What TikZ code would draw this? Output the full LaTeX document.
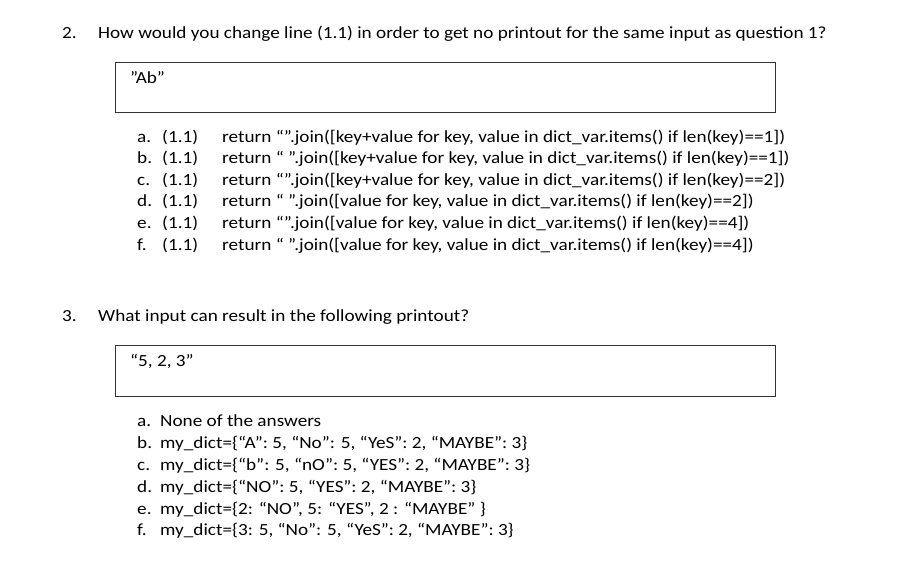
\documentclass[tikz,border=0pt]{standalone}
\usepackage{fontspec}
\setmainfont{Carlito}
\newcommand{\widen}[1]{\scalebox{1.13}[1]{#1}}
\begin{document}
\begin{tikzpicture}[x=1pt,y=-1pt,
  t/.style={anchor=base west,inner sep=0,font=\fontsize{17}{20}\selectfont},
  ansbox/.style={draw=black!80,line width=0.8pt}]
\useasboundingbox[fill=white] (0,0) rectangle (906,581);
\node[t] (q2n) at (62,38) {\widen{2.}};
\node[t] (q2) at (98,38) {\widen{How would you change line (1.1) in order to get no printout for the same input as question 1?}};
\draw[ansbox] (115,62) rectangle (775,112);
\node[t] (ab) at (130,83) {\widen{”Ab”}};
\foreach \l/\y/\s in {
 a./142/{return “”.join([key+value for key, value in dict\_var.items() if len(key)==1])},
 b./163/{return “ ”.join([key+value for key, value in dict\_var.items() if len(key)==1])},
 c./185/{return “”.join([key+value for key, value in dict\_var.items() if len(key)==2])},
 d./206/{return “ ”.join([value for key, value in dict\_var.items() if len(key)==2])},
 e./228/{return “”.join([value for key, value in dict\_var.items() if len(key)==4])},
 f./250/{return “ ”.join([value for key, value in dict\_var.items() if len(key)==4])}}{
 \node[t] at (137,\y) {\widen{\l}};
 \node[t] at (162,\y) {\widen{(1.1)}};
 \node[t] at (222,\y) {\widen{\s}};
}
\node[t] (q3n) at (62,321) {\widen{3.}};
\node[t] (q3) at (98,321) {\widen{What input can result in the following printout?}};
\draw[ansbox] (115,345) rectangle (775,396);
\node[t] (p) at (130,366) {\widen{“5, 2, 3”}};
\foreach \l/\y/\s in {
 a./426/{None of the answers},
 b./448/{my\_dict=\{“A”: 5, “No”: 5, “YeS”: 2, “MAYBE”: 3\}},
 c./470/{my\_dict=\{“b”: 5, “nO”: 5, “YES”: 2, “MAYBE”: 3\}},
 d./492/{my\_dict=\{“NO”: 5, “YES”: 2, “MAYBE”: 3\}},
 e./514/{my\_dict=\{2: “NO”, 5: “YES”, 2 : “MAYBE” \}},
 f./535/{my\_dict=\{3: 5, “No”: 5, “YeS”: 2, “MAYBE”: 3\}}}{
 \node[t] at (137,\y) {\widen{\l}};
 \node[t] at (160,\y) {\widen{\s}};
}
\end{tikzpicture}
\end{document}
